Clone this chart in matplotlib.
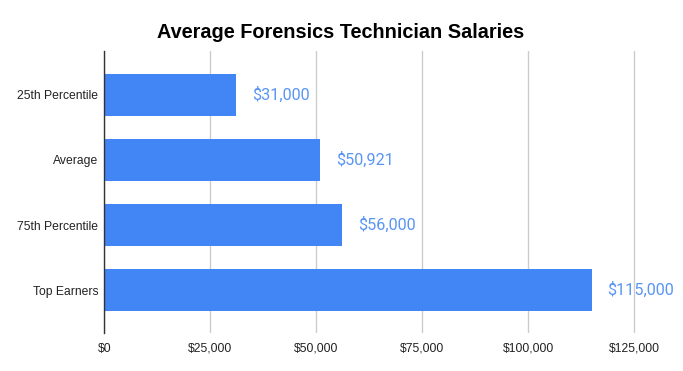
import matplotlib
matplotlib.use("Agg")
import matplotlib.pyplot as plt
from matplotlib.ticker import FuncFormatter

categories = ["25th Percentile", "Average", "75th Percentile", "Top Earners"]
salaries = [31000, 50921, 56000, 115000]
xticks = [0, 25000, 50000, 75000, 100000, 125000]

fig = plt.figure(figsize=(6.83, 3.71), dpi=100)
ax = fig.add_axes([0.1529, 0.1024, 0.8187, 0.7609])

ypos = list(range(len(categories)))
ax.barh(ypos, salaries, height=0.64, color="#4285F4", zorder=3)

ax.set_ylim(len(categories) - 1 + 0.66, -0.68)
ax.set_xlim(0, 132000)
ax.set_yticks(ypos)
ax.set_yticklabels(categories, fontfamily="Liberation Sans", fontsize=8.7, color="#222222")
ax.set_xticks(xticks)
ax.xaxis.set_major_formatter(FuncFormatter(lambda v, p: "${:,.0f}".format(v)))
for lab in ax.get_xticklabels():
    lab.set_fontfamily("Liberation Sans")
    lab.set_fontsize(8.7)
    lab.set_color("#222222")
ax.tick_params(axis="y", length=0, pad=4.5)
ax.tick_params(axis="x", length=0, pad=7)

ax.grid(axis="x", color="#cccccc", linewidth=1, zorder=0)
for s in ["top", "right", "bottom"]:
    ax.spines[s].set_visible(False)
ax.spines["left"].set_color("#333333")
ax.spines["left"].set_linewidth(1)
ax.spines["left"].set_zorder(4)

for y, v in zip(ypos, salaries):
    ax.annotate("${:,.0f}".format(v), xy=(v, y), xytext=(11.5, 0), textcoords="offset points",
                va="center", ha="left", fontfamily="Roboto", fontsize=11.7, color="#5a95f5")

fig.text(0.4985, 0.913, "Average Forensics Technician Salaries", ha="center", va="center",
         fontfamily="Liberation Sans", fontweight="bold", fontsize=14.3, color="#000000")

fig.savefig("out.png", dpi=100)
